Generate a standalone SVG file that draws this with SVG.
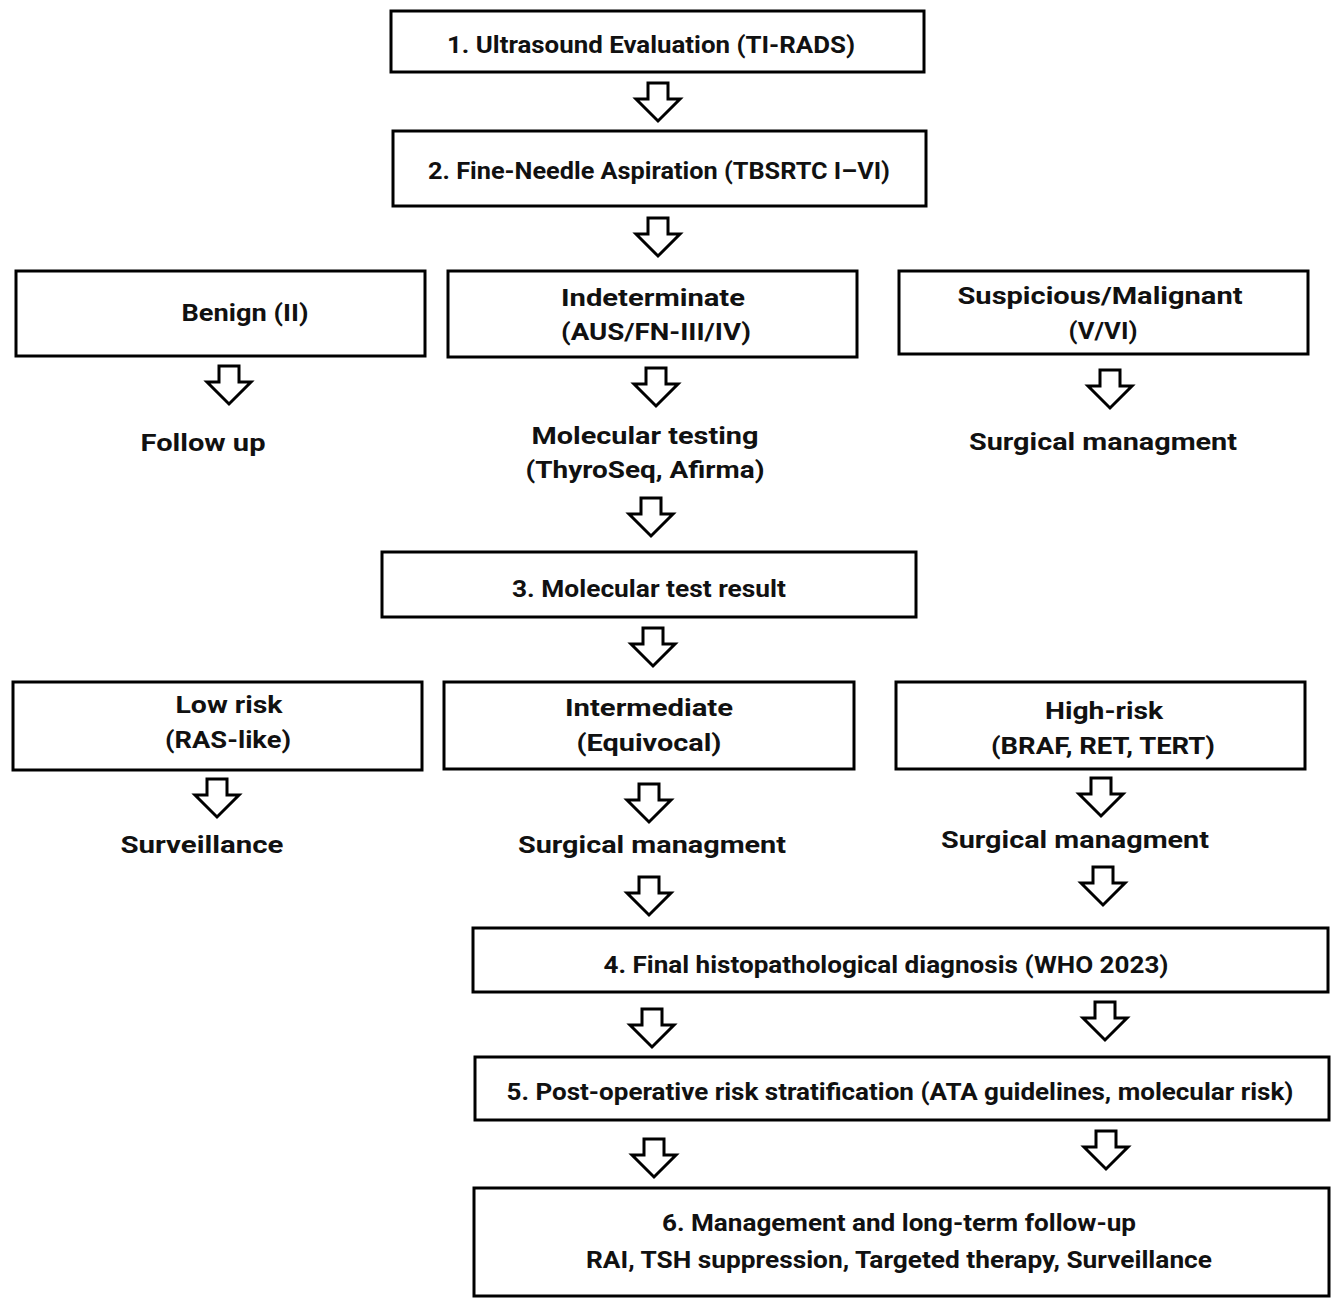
<svg xmlns="http://www.w3.org/2000/svg" xmlns:xlink="http://www.w3.org/1999/xlink" width="1343" height="1306" viewBox="0 0 1343 1306">
<style>
.box{fill:#fff;stroke:#000;stroke-width:3}
.arr{fill:#fff;stroke:#000;stroke-width:3;stroke-linejoin:miter}
text{font-family:Roboto,"Liberation Sans",Arial,sans-serif;font-weight:700;font-size:24px;fill:#111;text-anchor:middle}
</style>
<defs>
<path id="da" class="arr" d="M-10,0 H10 V16 H22 L0,38 L-22,16 H-10 Z"/>
</defs>
<rect width="1343" height="1306" fill="#fff"/>
<g id="n1"><rect class="box" x="391" y="11" width="533" height="61"/><text x="651" y="53" textLength="408" lengthAdjust="spacingAndGlyphs">1. Ultrasound Evaluation (TI-RADS)</text></g>
<g id="n2"><rect class="box" x="393" y="131" width="533" height="75"/><text x="659" y="179" textLength="462" lengthAdjust="spacingAndGlyphs">2. Fine-Needle Aspiration (TBSRTC I–VI)</text></g>
<g id="benign"><rect class="box" x="16" y="271" width="409" height="85"/><text x="245" y="321" textLength="127" lengthAdjust="spacingAndGlyphs">Benign (II)</text></g>
<g id="indet"><rect class="box" x="448" y="271" width="409" height="86"/><text x="653" y="306" textLength="184" lengthAdjust="spacingAndGlyphs">Indeterminate</text><text x="656" y="340" textLength="190" lengthAdjust="spacingAndGlyphs">(AUS/FN-III/IV)</text></g>
<g id="susp"><rect class="box" x="899" y="271" width="409" height="83"/><text x="1100" y="304" textLength="285" lengthAdjust="spacingAndGlyphs">Suspicious/Malignant</text><text x="1103" y="339" textLength="69" lengthAdjust="spacingAndGlyphs">(V/VI)</text></g>
<g id="followup"><text x="203" y="451" textLength="125" lengthAdjust="spacingAndGlyphs">Follow up</text></g>
<g id="moltest"><text x="645" y="444" textLength="227" lengthAdjust="spacingAndGlyphs">Molecular testing</text><text x="645" y="478" textLength="239" lengthAdjust="spacingAndGlyphs">(ThyroSeq, Afirma)</text></g>
<g id="surg1"><text x="1103" y="450" textLength="268" lengthAdjust="spacingAndGlyphs">Surgical managment</text></g>
<g id="n3"><rect class="box" x="382" y="552" width="534" height="65"/><text x="649" y="597" textLength="274" lengthAdjust="spacingAndGlyphs">3. Molecular test result</text></g>
<g id="low"><rect class="box" x="13" y="682" width="409" height="88"/><text x="229" y="713" textLength="107" lengthAdjust="spacingAndGlyphs">Low risk</text><text x="228" y="748" textLength="126" lengthAdjust="spacingAndGlyphs">(RAS-like)</text></g>
<g id="inter"><rect class="box" x="444" y="682" width="410" height="87"/><text x="649" y="716" textLength="168" lengthAdjust="spacingAndGlyphs">Intermediate</text><text x="649" y="751" textLength="145" lengthAdjust="spacingAndGlyphs">(Equivocal)</text></g>
<g id="high"><rect class="box" x="896" y="682" width="409" height="87"/><text x="1104" y="719" textLength="118" lengthAdjust="spacingAndGlyphs">High-risk</text><text x="1103" y="754" textLength="224" lengthAdjust="spacingAndGlyphs">(BRAF, RET, TERT)</text></g>
<g id="surv"><text x="202" y="853" textLength="163" lengthAdjust="spacingAndGlyphs">Surveillance</text></g>
<g id="surg2"><text x="652" y="853" textLength="268" lengthAdjust="spacingAndGlyphs">Surgical managment</text></g>
<g id="surg3"><text x="1075" y="848" textLength="268" lengthAdjust="spacingAndGlyphs">Surgical managment</text></g>
<g id="n4"><rect class="box" x="473" y="928" width="855" height="64"/><text x="886" y="973" textLength="565" lengthAdjust="spacingAndGlyphs">4. Final histopathological diagnosis (WHO 2023)</text></g>
<g id="n5"><rect class="box" x="475" y="1057" width="854" height="63"/><text x="900" y="1100" textLength="787" lengthAdjust="spacingAndGlyphs">5. Post-operative risk stratification (ATA guidelines, molecular risk)</text></g>
<g id="n6"><rect class="box" x="474" y="1188" width="855" height="108"/><text x="899" y="1231" textLength="474" lengthAdjust="spacingAndGlyphs">6. Management and long-term follow-up</text><text x="899" y="1268" textLength="626" lengthAdjust="spacingAndGlyphs">RAI, TSH suppression, Targeted therapy, Surveillance</text></g>
<g id="connectors">
<use xlink:href="#da" x="658" y="83"/>
<use xlink:href="#da" x="658" y="218"/>
<use xlink:href="#da" x="229" y="366"/>
<use xlink:href="#da" x="656" y="368"/>
<use xlink:href="#da" x="1110" y="370"/>
<use xlink:href="#da" x="651" y="498"/>
<use xlink:href="#da" x="653" y="628"/>
<use xlink:href="#da" x="217" y="779"/>
<use xlink:href="#da" x="649" y="784"/>
<use xlink:href="#da" x="1101" y="778"/>
<use xlink:href="#da" x="649" y="877"/>
<use xlink:href="#da" x="1103" y="867"/>
<use xlink:href="#da" x="652" y="1009"/>
<use xlink:href="#da" x="1105" y="1002"/>
<use xlink:href="#da" x="654" y="1139"/>
<use xlink:href="#da" x="1106" y="1131"/>
</g>
</svg>
